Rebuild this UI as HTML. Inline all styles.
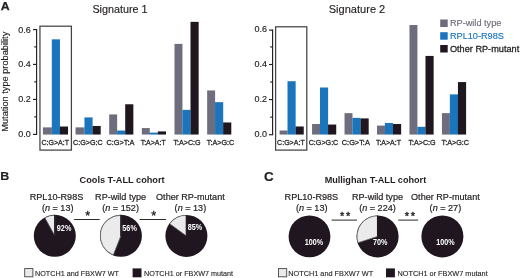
<!DOCTYPE html><html><head><meta charset="utf-8"><title>Figure</title><style>
html,body{margin:0;padding:0;background:#fff}svg{display:block}text{font-family:"Liberation Sans",Arial,sans-serif;fill:#231f20}
.b{font-weight:bold}.i{font-style:italic}
</style></head><body>
<svg width="520" height="278" viewBox="0 0 520 278">
<rect width="520" height="278" fill="#fff"/>
<path d="M36.60 29.03V134.97" stroke="#231f20" stroke-width="1.15" fill="none"/>
<path d="M33.00 134.40H36.60" stroke="#231f20" stroke-width="1.15" fill="none"/>
<text x="30.8" y="137.4" font-size="9" stroke="#231f20" stroke-width="0.15" text-anchor="end">0.0</text>
<path d="M34.20 116.90H36.60" stroke="#231f20" stroke-width="1.15" fill="none"/>
<path d="M33.00 99.40H36.60" stroke="#231f20" stroke-width="1.15" fill="none"/>
<text x="30.8" y="102.4" font-size="9" stroke="#231f20" stroke-width="0.15" text-anchor="end">0.2</text>
<path d="M34.20 81.90H36.60" stroke="#231f20" stroke-width="1.15" fill="none"/>
<path d="M33.00 64.40H36.60" stroke="#231f20" stroke-width="1.15" fill="none"/>
<text x="30.8" y="67.4" font-size="9" stroke="#231f20" stroke-width="0.15" text-anchor="end">0.4</text>
<path d="M34.20 46.90H36.60" stroke="#231f20" stroke-width="1.15" fill="none"/>
<path d="M33.00 29.60H36.60" stroke="#231f20" stroke-width="1.15" fill="none"/>
<text x="30.8" y="32.6" font-size="9" stroke="#231f20" stroke-width="0.15" text-anchor="end">0.6</text>
<text x="120.0" y="12.85" font-size="10.80" stroke="#231f20" stroke-width="0.15" text-anchor="middle">Signature 1</text>
<rect x="42.90" y="127.38" width="8.95" height="7.17" fill="#6d6d7e"/>
<rect x="51.80" y="39.35" width="8.15" height="95.20" fill="#1b75bc"/>
<rect x="59.90" y="126.50" width="8.15" height="8.05" fill="#1f1620"/>
<text x="41.4" y="145.2" font-size="7.8" stroke="#231f20" stroke-width="0.28" textLength="27.6" lengthAdjust="spacingAndGlyphs">C:G&gt;A:T</text>
<rect x="75.55" y="127.38" width="8.95" height="7.17" fill="#6d6d7e"/>
<rect x="84.45" y="117.40" width="8.15" height="17.15" fill="#1b75bc"/>
<rect x="92.55" y="125.97" width="8.15" height="8.57" fill="#1f1620"/>
<text x="73.1" y="145.2" font-size="7.8" stroke="#231f20" stroke-width="0.28" textLength="29.6" lengthAdjust="spacingAndGlyphs">C:G&gt;G:C</text>
<rect x="109.20" y="114.42" width="7.95" height="20.12" fill="#6d6d7e"/>
<rect x="117.10" y="130.53" width="8.15" height="4.02" fill="#1b75bc"/>
<rect x="125.20" y="104.27" width="8.15" height="30.28" fill="#1f1620"/>
<text x="106.5" y="145.2" font-size="7.8" stroke="#231f20" stroke-width="0.28" textLength="28.0" lengthAdjust="spacingAndGlyphs">C:G&gt;T:A</text>
<rect x="141.85" y="128.07" width="7.95" height="6.48" fill="#6d6d7e"/>
<rect x="149.75" y="132.62" width="8.15" height="1.93" fill="#1b75bc"/>
<rect x="157.85" y="131.40" width="8.15" height="3.15" fill="#1f1620"/>
<text x="140.7" y="145.2" font-size="7.8" stroke="#231f20" stroke-width="0.28" textLength="25.0" lengthAdjust="spacingAndGlyphs">T:A&gt;A:T</text>
<rect x="174.50" y="43.90" width="7.95" height="90.65" fill="#6d6d7e"/>
<rect x="182.40" y="109.88" width="8.15" height="24.68" fill="#1b75bc"/>
<rect x="190.50" y="21.85" width="8.15" height="112.70" fill="#1f1620"/>
<text x="173.4" y="145.2" font-size="7.8" stroke="#231f20" stroke-width="0.28" textLength="27.3" lengthAdjust="spacingAndGlyphs">T:A&gt;C:G</text>
<rect x="207.15" y="90.45" width="7.95" height="44.10" fill="#6d6d7e"/>
<rect x="215.05" y="102.17" width="8.15" height="32.38" fill="#1b75bc"/>
<rect x="223.15" y="122.47" width="8.15" height="12.07" fill="#1f1620"/>
<text x="206.8" y="145.2" font-size="7.8" stroke="#231f20" stroke-width="0.28" textLength="27.5" lengthAdjust="spacingAndGlyphs">T:A&gt;G:C</text>
<rect x="39.95" y="26.20" width="31.45" height="123.90" fill="none" stroke="#444" stroke-width="1.25"/>
<path d="M272.60 29.53V135.27" stroke="#231f20" stroke-width="1.15" fill="none"/>
<path d="M269.00 134.70H272.60" stroke="#231f20" stroke-width="1.15" fill="none"/>
<text x="267.0" y="137.2" font-size="9" stroke="#231f20" stroke-width="0.15" text-anchor="end">0.0</text>
<path d="M270.20 117.15H272.60" stroke="#231f20" stroke-width="1.15" fill="none"/>
<path d="M269.00 99.60H272.60" stroke="#231f20" stroke-width="1.15" fill="none"/>
<text x="267.0" y="102.1" font-size="9" stroke="#231f20" stroke-width="0.15" text-anchor="end">0.2</text>
<path d="M270.20 82.05H272.60" stroke="#231f20" stroke-width="1.15" fill="none"/>
<path d="M269.00 64.50H272.60" stroke="#231f20" stroke-width="1.15" fill="none"/>
<text x="267.0" y="67.0" font-size="9" stroke="#231f20" stroke-width="0.15" text-anchor="end">0.4</text>
<path d="M270.20 46.95H272.60" stroke="#231f20" stroke-width="1.15" fill="none"/>
<path d="M269.00 30.10H272.60" stroke="#231f20" stroke-width="1.15" fill="none"/>
<text x="267.0" y="32.1" font-size="9" stroke="#231f20" stroke-width="0.15" text-anchor="end">0.6</text>
<text x="357.0" y="12.85" font-size="11.05" stroke="#231f20" stroke-width="0.15" text-anchor="middle">Signature 2</text>
<rect x="279.60" y="130.52" width="7.95" height="4.03" fill="#6d6d7e"/>
<rect x="287.50" y="81.20" width="8.15" height="53.35" fill="#1b75bc"/>
<rect x="295.60" y="126.48" width="8.15" height="8.07" fill="#1f1620"/>
<text x="277.1" y="144.7" font-size="7.8" stroke="#231f20" stroke-width="0.28" textLength="27.6" lengthAdjust="spacingAndGlyphs">C:G&gt;A:T</text>
<rect x="312.07" y="124.02" width="7.95" height="10.53" fill="#6d6d7e"/>
<rect x="319.97" y="87.52" width="8.15" height="47.03" fill="#1b75bc"/>
<rect x="328.07" y="124.55" width="8.15" height="10.00" fill="#1f1620"/>
<text x="308.7" y="144.7" font-size="7.8" stroke="#231f20" stroke-width="0.28" textLength="29.6" lengthAdjust="spacingAndGlyphs">C:G&gt;G:C</text>
<rect x="344.54" y="113.14" width="7.95" height="21.41" fill="#6d6d7e"/>
<rect x="352.44" y="117.88" width="8.15" height="16.67" fill="#1b75bc"/>
<rect x="360.54" y="118.41" width="8.15" height="16.14" fill="#1f1620"/>
<text x="341.8" y="144.7" font-size="7.8" stroke="#231f20" stroke-width="0.28" textLength="28.0" lengthAdjust="spacingAndGlyphs">C:G&gt;T:A</text>
<rect x="377.01" y="125.60" width="7.95" height="8.95" fill="#6d6d7e"/>
<rect x="384.91" y="122.97" width="8.15" height="11.58" fill="#1b75bc"/>
<rect x="393.01" y="124.02" width="8.15" height="10.53" fill="#1f1620"/>
<text x="375.9" y="144.7" font-size="7.8" stroke="#231f20" stroke-width="0.28" textLength="25.0" lengthAdjust="spacingAndGlyphs">T:A&gt;A:T</text>
<rect x="409.48" y="25.04" width="7.95" height="109.51" fill="#6d6d7e"/>
<rect x="417.38" y="126.83" width="8.15" height="7.72" fill="#1b75bc"/>
<rect x="425.48" y="55.93" width="8.15" height="78.62" fill="#1f1620"/>
<text x="408.4" y="144.7" font-size="7.8" stroke="#231f20" stroke-width="0.28" textLength="27.3" lengthAdjust="spacingAndGlyphs">T:A&gt;C:G</text>
<rect x="441.95" y="113.14" width="7.95" height="21.41" fill="#6d6d7e"/>
<rect x="449.85" y="94.36" width="8.15" height="40.19" fill="#1b75bc"/>
<rect x="457.95" y="82.08" width="8.15" height="52.47" fill="#1f1620"/>
<text x="441.6" y="144.7" font-size="7.8" stroke="#231f20" stroke-width="0.28" textLength="27.5" lengthAdjust="spacingAndGlyphs">T:A&gt;G:C</text>
<rect x="275.60" y="26.80" width="31.20" height="123.30" fill="none" stroke="#444" stroke-width="1.25"/>
<text transform="translate(8.4,81.7) rotate(-90)" font-size="9" stroke="#231f20" stroke-width="0.15" text-anchor="middle" textLength="100" lengthAdjust="spacingAndGlyphs">Mutation type probability</text>
<text class="b" x="0.8" y="9.9" font-size="11" stroke="#231f20" stroke-width="0.25" textLength="8.9" lengthAdjust="spacingAndGlyphs">A</text>
<text class="b" x="0.2" y="180.3" font-size="11.6" stroke="#231f20" stroke-width="0.2" textLength="9.0" lengthAdjust="spacingAndGlyphs">B</text>
<text class="b" x="264.0" y="180.7" font-size="12.2" stroke="#231f20" stroke-width="0.2" textLength="9.7" lengthAdjust="spacingAndGlyphs">C</text>
<rect x="440.2" y="19.5" width="7.5" height="7.5" fill="#6d6d7e"/>
<text x="449.9" y="26.1" font-size="9.18" style="fill:#6d6d7e" stroke="#6d6d7e" stroke-width="0.15">RP-wild type</text>
<rect x="440.2" y="32.2" width="7.5" height="7.5" fill="#1b75bc"/>
<text x="449.9" y="38.9" font-size="9.18" style="fill:#1b75bc" stroke="#1b75bc" stroke-width="0.15">RPL10-R98S</text>
<rect x="440.2" y="45.0" width="7.5" height="7.5" fill="#1f1620"/>
<text x="449.9" y="51.6" font-size="9.18" style="fill:#231f20" stroke="#231f20" stroke-width="0.28">Other RP-mutant</text>
<text class="b" x="122.1" y="183.0" font-size="9.2" text-anchor="middle">Cools T-ALL cohort</text>
<text x="56.5" y="200.4" font-size="9.1" stroke="#231f20" stroke-width="0.2" text-anchor="middle">RPL10-R98S</text>
<text x="57.7" y="211.0" font-size="9.1" stroke="#231f20" stroke-width="0.2" text-anchor="middle">(<tspan class="i">n</tspan> = 13)</text>
<text x="120.6" y="200.4" font-size="9.1" stroke="#231f20" stroke-width="0.2" text-anchor="middle">RP-wild type</text>
<text x="120.6" y="211.0" font-size="9.1" stroke="#231f20" stroke-width="0.2" text-anchor="middle">(<tspan class="i">n</tspan> = 152)</text>
<text x="190.4" y="200.4" font-size="9.1" stroke="#231f20" stroke-width="0.2" text-anchor="middle">Other RP-mutant</text>
<text x="190.4" y="211.0" font-size="9.1" stroke="#231f20" stroke-width="0.2" text-anchor="middle">(<tspan class="i">n</tspan> = 13)</text>
<circle cx="54.8" cy="235.8" r="21.0" fill="#1f1620"/>
<path d="M54.80 235.80L54.80 215.15A20.65 20.65 0 0 0 44.85 217.70Z" fill="#ebebeb" stroke="#5a5a5a" stroke-width="0.7" stroke-linejoin="round"/>
<path d="M54.70 236.10V215.00" stroke="#1f1620" stroke-width="1.1" fill="none"/>
<text class="b" x="64.1" y="231.0" font-size="8.5" text-anchor="middle" textLength="14.5" lengthAdjust="spacingAndGlyphs" style="fill:#fff">92%</text>
<circle cx="120.9" cy="235.8" r="21.0" fill="#1f1620"/>
<path d="M120.90 235.80L120.90 215.15A20.65 20.65 0 0 0 113.30 255.00Z" fill="#ebebeb" stroke="#5a5a5a" stroke-width="0.7" stroke-linejoin="round"/>
<path d="M120.80 236.10V215.00" stroke="#1f1620" stroke-width="1.1" fill="none"/>
<text class="b" x="129.6" y="231.0" font-size="8.5" text-anchor="middle" textLength="14.5" lengthAdjust="spacingAndGlyphs" style="fill:#fff">56%</text>
<circle cx="186.4" cy="235.9" r="21.0" fill="#1f1620"/>
<path d="M186.40 235.90L186.40 215.25A20.65 20.65 0 0 0 169.69 223.76Z" fill="#ebebeb" stroke="#5a5a5a" stroke-width="0.7" stroke-linejoin="round"/>
<path d="M186.30 236.20V215.10" stroke="#1f1620" stroke-width="1.1" fill="none"/>
<text class="b" x="194.9" y="230.4" font-size="8.5" text-anchor="middle" textLength="14.5" lengthAdjust="spacingAndGlyphs" style="fill:#fff">85%</text>
<path d="M74.2 219.5H99.7" stroke="#2a2a2a" stroke-width="1" fill="none"/>
<text x="87.8" y="219.8" font-size="12.5" stroke="#231f20" stroke-width="0.35" text-anchor="middle">*</text>
<path d="M139.6 219.5H166.0" stroke="#2a2a2a" stroke-width="1" fill="none"/>
<text x="153.6" y="219.8" font-size="12.5" stroke="#231f20" stroke-width="0.35" text-anchor="middle">*</text>
<text class="b" x="375.4" y="183.0" font-size="9.12" text-anchor="middle">Mullighan T-ALL cohort</text>
<text x="311.4" y="200.4" font-size="9.1" stroke="#231f20" stroke-width="0.2" text-anchor="middle">RPL10-R98S</text>
<text x="311.7" y="211.0" font-size="9.1" stroke="#231f20" stroke-width="0.2" text-anchor="middle">(<tspan class="i">n</tspan> = 13)</text>
<text x="377.5" y="200.4" font-size="9.1" stroke="#231f20" stroke-width="0.2" text-anchor="middle">RP-wild type</text>
<text x="377.5" y="211.0" font-size="9.1" stroke="#231f20" stroke-width="0.2" text-anchor="middle">(<tspan class="i">n</tspan> = 224)</text>
<text x="445.4" y="200.4" font-size="9.1" stroke="#231f20" stroke-width="0.2" text-anchor="middle">Other RP-mutant</text>
<text x="445.4" y="211.0" font-size="9.1" stroke="#231f20" stroke-width="0.2" text-anchor="middle">(<tspan class="i">n</tspan> = 27)</text>
<circle cx="309.5" cy="236.4" r="20.9" fill="#1f1620"/>
<text class="b" x="314.0" y="244.6" font-size="8.5" text-anchor="middle" textLength="18.3" lengthAdjust="spacingAndGlyphs" style="fill:#fff">100%</text>
<circle cx="377.6" cy="236.4" r="21.0" fill="#1f1620"/>
<path d="M377.60 236.40L377.60 215.75A20.65 20.65 0 0 0 357.96 242.78Z" fill="#ebebeb" stroke="#5a5a5a" stroke-width="0.7" stroke-linejoin="round"/>
<path d="M377.50 236.70V215.60" stroke="#1f1620" stroke-width="1.1" fill="none"/>
<text class="b" x="380.3" y="244.6" font-size="8.5" text-anchor="middle" textLength="14.5" lengthAdjust="spacingAndGlyphs" style="fill:#fff">70%</text>
<circle cx="442.4" cy="236.4" r="21.0" fill="#1f1620"/>
<text class="b" x="445.5" y="244.6" font-size="8.5" text-anchor="middle" textLength="18.3" lengthAdjust="spacingAndGlyphs" style="fill:#fff">100%</text>
<path d="M331.6 220.1H357.0" stroke="#2a2a2a" stroke-width="1" fill="none"/>
<text x="345.2" y="219.7" font-size="11" stroke="#231f20" stroke-width="0.35" textLength="10.2" text-anchor="middle">**</text>
<path d="M398.2 220.1H418.2" stroke="#2a2a2a" stroke-width="1" fill="none"/>
<text x="409.9" y="219.7" font-size="11" stroke="#231f20" stroke-width="0.35" textLength="10.2" text-anchor="middle">**</text>
<rect x="24.7" y="268.6" width="8.2" height="8.2" fill="#ebebeb" stroke="#444" stroke-width="0.9"/>
<text x="35.0" y="275.7" font-size="7.5" stroke="#231f20" stroke-width="0.12" textLength="84.0" lengthAdjust="spacingAndGlyphs">NOTCH1 and FBXW7 WT</text>
<rect x="132.6" y="268.4" width="8.9" height="8.9" fill="#1f1620"/>
<text x="144.1" y="275.7" font-size="7.5" stroke="#231f20" stroke-width="0.12" textLength="89.0" lengthAdjust="spacingAndGlyphs">NOTCH1 or FBXW7 mutant</text>
<rect x="278.5" y="268.6" width="8.2" height="8.2" fill="#ebebeb" stroke="#444" stroke-width="0.9"/>
<text x="288.2" y="275.7" font-size="7.5" stroke="#231f20" stroke-width="0.12" textLength="85.0" lengthAdjust="spacingAndGlyphs">NOTCH1 and FBXW7 WT</text>
<rect x="386.0" y="268.4" width="8.9" height="8.9" fill="#1f1620"/>
<text x="397.5" y="275.7" font-size="7.5" stroke="#231f20" stroke-width="0.12" textLength="90.2" lengthAdjust="spacingAndGlyphs">NOTCH1 or FBXW7 mutant</text>
</svg></body></html>
